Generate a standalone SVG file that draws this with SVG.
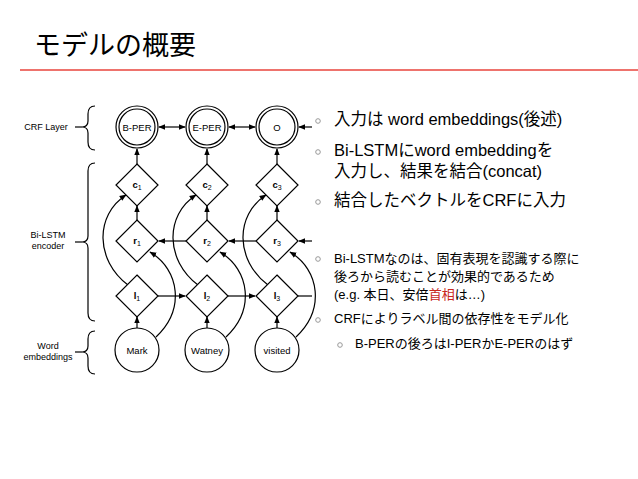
<svg xmlns="http://www.w3.org/2000/svg" width="638" height="479" viewBox="0 0 638 479">
<style>
.s{fill:#fff;stroke:#000;stroke-width:1.2}
.e{fill:none;stroke:#000;stroke-width:1.2}
.t{font-family:"Liberation Sans","Noto Sans CJK JP",sans-serif;fill:#000}
.n{font-size:9.5px;text-anchor:middle}
.b{fill:none;stroke:#999;stroke-width:1}
</style>
<defs><marker id="a" viewBox="0 0 10 10" refX="9" refY="5" markerWidth="7" markerHeight="7" markerUnits="userSpaceOnUse" orient="auto-start-reverse"><path d="M0,1 L10,5 L0,9 Z" fill="#000"/></marker></defs>
<rect width="638" height="479" fill="#fff"/>
<text class="t" x="34" y="55" font-size="27">モデルの概要</text>
<line x1="20" y1="70" x2="638" y2="70" stroke="#e8453c" stroke-width="1.5"/>
<g id="braces" class="e" stroke-width="1">
<path d="M95,106 Q88,106 88,114 L88,121 Q88,127 82,127 Q88,127 88,133 L88,142 Q88,150 95,150"/>
<path d="M95,163 Q88,163 88,171 L88,236 Q88,242 82,242 Q88,242 88,248 L88,313 Q88,321 95,321"/>
<path d="M95,331 Q88,331 88,339 L88,346 Q88,352 82,352 Q88,352 88,358 L88,366 Q88,374 95,374"/>
<line x1="75" y1="127" x2="82" y2="127"/><line x1="75" y1="242" x2="82" y2="242"/><line x1="75" y1="352" x2="82" y2="352"/>
</g>
<g class="t" font-size="9" text-anchor="middle">
<text x="46" y="130">CRF Layer</text>
<text x="48" y="238">Bi-LSTM</text><text x="48" y="249">encoder</text>
<text x="48" y="349">Word</text><text x="48" y="360">embeddings</text>
</g>
<g id="connectors" class="e">
<line x1="159" y1="127" x2="185" y2="127" marker-start="url(#a)" marker-end="url(#a)"/>
<line x1="229" y1="127" x2="255" y2="127" marker-start="url(#a)" marker-end="url(#a)"/>
<line x1="312" y1="127" x2="299" y2="127" marker-end="url(#a)"/>
<line x1="312" y1="241" x2="299" y2="241" marker-end="url(#a)"/>
<line x1="256" y1="241" x2="229" y2="241" marker-end="url(#a)"/>
<line x1="186" y1="241" x2="159" y2="241" marker-end="url(#a)"/>
<line x1="158" y1="296" x2="185" y2="296" marker-end="url(#a)"/>
<line x1="228" y1="296" x2="255" y2="296" marker-end="url(#a)"/>
<line x1="298" y1="296" x2="312" y2="296"/>
<g id="vert">
<line x1="137" y1="164" x2="137" y2="149" marker-end="url(#a)"/><line x1="207" y1="164" x2="207" y2="149" marker-end="url(#a)"/><line x1="277" y1="164" x2="277" y2="149" marker-end="url(#a)"/>
<line x1="137" y1="220" x2="137" y2="206" marker-end="url(#a)"/><line x1="207" y1="220" x2="207" y2="206" marker-end="url(#a)"/><line x1="277" y1="220" x2="277" y2="206" marker-end="url(#a)"/>
<line x1="137" y1="328" x2="137" y2="317" marker-end="url(#a)"/><line x1="207" y1="328" x2="207" y2="317" marker-end="url(#a)"/><line x1="277" y1="328" x2="277" y2="317" marker-end="url(#a)"/>
</g>
<path d="M128,285 C95,260 95,215 126,195" marker-end="url(#a)"/>
<path d="M198,285 C165,260 165,215 196,195" marker-end="url(#a)"/>
<path d="M268,285 C235,260 235,215 266,195" marker-end="url(#a)"/>
<path d="M156,337 C185,310 180,270 150,252" marker-end="url(#a)"/>
<path d="M226,337 C255,310 250,270 220,252" marker-end="url(#a)"/>
<path d="M296,337 C325,310 320,270 290,252" marker-end="url(#a)"/>
</g>
<g id="crf">
<g id="bper"><circle class="s" cx="137" cy="127" r="21"/><circle class="e" cx="137" cy="127" r="18"/><text class="t n" x="137" y="130.5">B-PER</text></g>
<g id="eper"><circle class="s" cx="207" cy="127" r="21"/><circle class="e" cx="207" cy="127" r="18"/><text class="t n" x="207" y="130.5">E-PER</text></g>
<g id="o"><circle class="s" cx="277" cy="127" r="21"/><circle class="e" cx="277" cy="127" r="18"/><text class="t n" x="277" y="130.5">O</text></g>
</g>
<g id="c1"><path class="s" d="M137,164 L158,185 L137,206 L116,185 Z"/><text class="t n" x="137" y="188"><tspan font-weight="bold">c</tspan><tspan font-size="7" dy="2">1</tspan></text></g>
<g id="c2"><path class="s" d="M207,164 L228,185 L207,206 L186,185 Z"/><text class="t n" x="207" y="188"><tspan font-weight="bold">c</tspan><tspan font-size="7" dy="2">2</tspan></text></g>
<g id="c3"><path class="s" d="M277,164 L298,185 L277,206 L256,185 Z"/><text class="t n" x="277" y="188"><tspan font-weight="bold">c</tspan><tspan font-size="7" dy="2">3</tspan></text></g>
<g id="r1"><path class="s" d="M137,220 L158,241 L137,262 L116,241 Z"/><text class="t n" x="137" y="244"><tspan font-weight="bold">r</tspan><tspan font-size="7" dy="2">1</tspan></text></g>
<g id="r2"><path class="s" d="M207,220 L228,241 L207,262 L186,241 Z"/><text class="t n" x="207" y="244"><tspan font-weight="bold">r</tspan><tspan font-size="7" dy="2">2</tspan></text></g>
<g id="r3"><path class="s" d="M277,220 L298,241 L277,262 L256,241 Z"/><text class="t n" x="277" y="244"><tspan font-weight="bold">r</tspan><tspan font-size="7" dy="2">3</tspan></text></g>
<g id="l1"><path class="s" d="M137,275 L158,296 L137,317 L116,296 Z"/><text class="t n" x="137" y="299"><tspan font-weight="bold">l</tspan><tspan font-size="7" dy="2">1</tspan></text></g>
<g id="l2"><path class="s" d="M207,275 L228,296 L207,317 L186,296 Z"/><text class="t n" x="207" y="299"><tspan font-weight="bold">l</tspan><tspan font-size="7" dy="2">2</tspan></text></g>
<g id="l3"><path class="s" d="M277,275 L298,296 L277,317 L256,296 Z"/><text class="t n" x="277" y="299"><tspan font-weight="bold">l</tspan><tspan font-size="7" dy="2">3</tspan></text></g>
<g id="mark"><circle class="s" cx="137" cy="350" r="22"/><text class="t n" x="137" y="353.5">Mark</text></g>
<g id="watney"><circle class="s" cx="207" cy="350" r="22"/><text class="t n" x="207" y="353.5">Watney</text></g>
<g id="visited"><circle class="s" cx="277" cy="350" r="22"/><text class="t n" x="277" y="353.5">visited</text></g>
<g id="bullets">
<circle class="b" cx="318" cy="121" r="2.3"/><circle class="b" cx="318" cy="152" r="2.3"/><circle class="b" cx="318" cy="202" r="2.3"/>
<circle class="b" cx="318" cy="259" r="2.3"/><circle class="b" cx="318" cy="320" r="2.3"/><circle class="b" cx="340" cy="345" r="2.3"/>
<g class="t" font-size="16.5">
<text x="334" y="125">入力は word embeddings(後述)</text>
<text x="334" y="156">Bi-LSTMにword embeddingを</text>
<text x="334" y="177">入力し、結果を結合(concat)</text>
<text x="334" y="206">結合したベクトルをCRFに入力</text>
</g>
<g class="t" font-size="13">
<text x="334" y="263">Bi-LSTMなのは、固有表現を認識する際に</text>
<text x="334" y="281">後ろから読むことが効果的であるため</text>
<text x="334" y="299">(e.g. 本日、安倍<tspan fill="#c8281e">首相</tspan>は…)</text>
<text x="334" y="323">CRFによりラベル間の依存性をモデル化</text>
<text x="355" y="348">B-PERの後ろはI-PERかE-PERのはず</text>
</g>
</g>
</svg>
